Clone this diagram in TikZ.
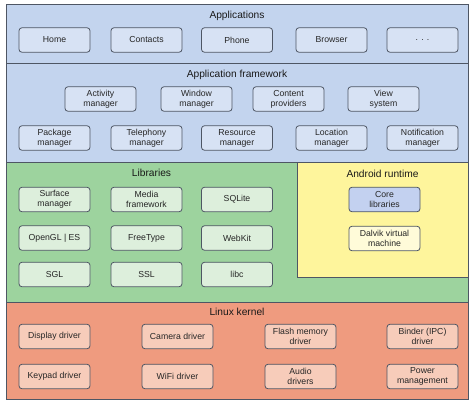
\documentclass[tikz,border=0pt]{standalone}
\usepackage{fontspec}
\setmainfont{Liberation Sans}
\definecolor{bandblue}{HTML}{C3D4EE}
\definecolor{boxblue}{HTML}{D7E2F4}
\definecolor{bandgreen}{HTML}{9DD39E}
\definecolor{boxgreen}{HTML}{DDEFDC}
\definecolor{bandyellow}{HTML}{FEF59C}
\definecolor{boxyellow}{HTML}{FFFBD9}
\definecolor{corebl}{HTML}{C3D1F0}
\definecolor{bandsalmon}{HTML}{EF9B7F}
\definecolor{boxsalmon}{HTML}{F7CCBA}
\definecolor{edge}{HTML}{4E5664}
\tikzset{
  x=1pt,y=-1pt,
  band/.style={draw=edge,line width=0.8pt},
  bx/.style={draw=edge,line width=0.8pt,rounded corners=3pt,minimum width=71pt,minimum height=24.5pt,
    inner sep=1pt,align=center,font=\fontsize{8.7}{10}\selectfont,text=black!85},
  ttl/.style={font=\fontsize{10.2}{12}\selectfont,text=black!90,inner sep=0pt}
}
\begin{document}
\begin{tikzpicture}
\useasboundingbox (0,0) rectangle (474,405);
% bands
\draw[band,fill=bandblue] (6,4) rectangle (468,63);
\draw[band,fill=bandblue] (6,63) rectangle (468,162);
\draw[band,fill=bandgreen] (6,162) rectangle (468,302);
\draw[band,fill=bandyellow] (297,162) rectangle (468,277);
\draw[band,fill=bandsalmon] (6,302) rectangle (468,399);
% titles
\node[ttl] (tapps) at (237,15.5) {Applications};
\node[ttl] (tfw) at (237,75) {Application framework};
\node[ttl] (tlib) at (151.5,173) {Libraries};
\node[ttl] (tart) at (382.5,174) {Android runtime};
\node[ttl] (tlk) at (237,312) {Linux kernel};
% applications
\begin{scope}[every node/.style={bx,fill=boxblue}]
\node (home) at (54.5,40) {Home};
\node (contacts) at (146.5,40) {Contacts};
\node (phone) at (237,40) {Phone};
\node (browser) at (331.5,40) {Browser};
\node (dots) at (422.5,40) {. . .};
% framework
\node (activity) at (100.5,99) {Activity\\manager};
\node (window) at (196.5,99) {Window\\manager};
\node (content) at (288.5,99) {Content\\providers};
\node (view) at (383.5,99) {View\\system};
\node (package) at (54.5,138) {Package\\manager};
\node (telephony) at (146.5,138) {Telephony\\manager};
\node (resource) at (237,138) {Resource\\manager};
\node (location) at (331.5,138) {Location\\manager};
\node (notification) at (422.5,138) {Notification\\manager};
\end{scope}
% libraries
\begin{scope}[every node/.style={bx,fill=boxgreen}]
\node (surface) at (54.5,199.5) {Surface\\manager};
\node (media) at (146.5,199.5) {Media\\framework};
\node (sqlite) at (237,199.5) {SQLite};
\node (opengl) at (54.5,238) {OpenGL | ES};
\node (freetype) at (146.5,238) {FreeType};
\node (webkit) at (237,238) {WebKit};
\node (sgl) at (54.5,274.5) {SGL};
\node (ssl) at (146.5,274.5) {SSL};
\node (libc) at (237,274.5) {libc};
\end{scope}
% runtime
\node[bx,fill=corebl] (core) at (384.5,199.5) {Core\\libraries};
\node[bx,fill=boxyellow] (dalvik) at (384.5,238.5) {Dalvik virtual\\machine};
% kernel
\begin{scope}[every node/.style={bx,fill=boxsalmon}]
\node (display) at (54.5,336.5) {Display driver};
\node (camera) at (177.5,336.5) {Camera driver};
\node (flash) at (300.5,336.5) {Flash memory\\driver};
\node (binder) at (422.5,336.5) {Binder (IPC)\\driver};
\node (keypad) at (54.5,376.5) {Keypad driver};
\node (wifi) at (177.5,376.5) {WiFi driver};
\node (audio) at (300.5,376.5) {Audio\\drivers};
\node (power) at (422.5,376.5) {Power\\management};
\end{scope}
\end{tikzpicture}
\end{document}
